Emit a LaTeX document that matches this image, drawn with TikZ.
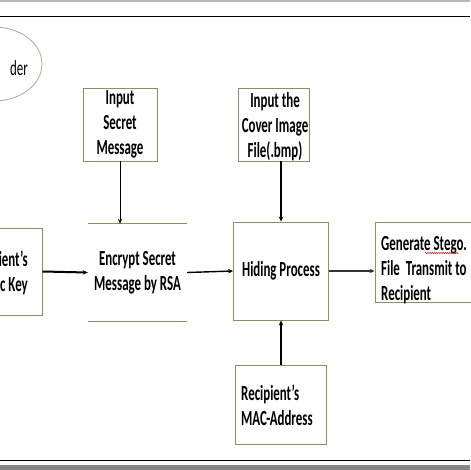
\documentclass[tikz,border=0pt]{standalone}
\usepackage{fontspec}
\newfontfamily\diagfont{Carlito}[FakeStretch=0.6]
\usetikzlibrary{arrows.meta,shapes.geometric,decorations.pathmorphing}
\definecolor{boxgreen}{RGB}{128,152,92}
\definecolor{ellgreen}{RGB}{160,178,140}
\definecolor{topgray}{RGB}{185,185,185}
\definecolor{botgray}{RGB}{135,135,135}
\tikzset{
  txt/.style={font=\diagfont\bfseries\fontsize{21.5}{25}\selectfont, inner sep=0pt, text=black},
  gbox/.style={draw=boxgreen, line width=0.9pt, inner sep=0pt},
  arr/.style={-{Stealth[length=5pt,width=4pt]}, line width=1pt},
  midarr/.style={-{Stealth[length=5pt,width=4.5pt]}, line width=1.4pt},
  thickarr/.style={-{Stealth[length=5pt,width=4.5pt]}, line width=2pt}
}
\begin{document}
\begin{tikzpicture}[x=1pt,y=-1pt]
\useasboundingbox (0,0) rectangle (470,470);
\begin{scope}
\clip (0,0) rectangle (470,470);
% frame bands
\fill[topgray] (0,0) rectangle (470,2.5);
\draw[line width=1pt] (0,17) -- (470,17);
\draw[line width=1pt] (0,460) -- (470,460);
\fill[botgray] (0,465) rectangle (470,470);
% sender ellipse
\node[ellipse, draw=ellgreen, line width=0.8pt, minimum width=96, minimum height=74] (sender) at (-6,64) {};
\node[txt, font=\diagfont\fontsize{21.5}{25}\selectfont, anchor=east] (sendertxt) at (28,68) {der};
% left key box
\node[gbox, minimum width=60, minimum height=87] (key) at (12,271.5) {};
\node[txt, anchor=east, align=right] (keytxt) at (28,273) {ient’s\\c Key};
\end{scope}
% input secret message
\node[gbox, minimum width=74, minimum height=73, txt, align=center] (secret) at (120,124.5) {Input\\Secret\\Message};
% cover image
\node[gbox, minimum width=71, minimum height=73] (cover) at (273.5,124.5) {};
\node[txt, align=center] (covertxt) at (275,126.5) {Input the\\Cover Image\\File(.bmp)};
% encrypt (top and bottom lines only)
\node[txt, align=center, minimum width=99, minimum height=97] (encrypt) at (137.5,272.5) {Encrypt Secret\\Message by RSA};
\draw[boxgreen, line width=0.9pt] (encrypt.north west) -- (encrypt.north east);
\draw[boxgreen, line width=0.9pt] (encrypt.south west) -- (encrypt.south east);
% hiding process
\node[gbox, minimum width=95, minimum height=98, txt] (hiding) at (281,271) {Hiding Process};
% stego box
\node[gbox, minimum width=100, minimum height=80] (stego) at (425,262) {};
\node[txt, anchor=west, align=left] (stegotxt) at (381,270) {Generate Stego.\\File~~Transmit to\\Recipient};
\draw[red!80!black, line width=0.4pt, decorate, decoration={snake, amplitude=0.7pt, segment length=2.2pt}] (425,253) -- (459,253);
% MAC address
\node[gbox, minimum width=91, minimum height=79] (mac) at (281,404.5) {};
\node[txt, anchor=west, align=left] (mactxt) at (241,405.5) {Recipient’s\\MAC-Address};
% connectors
\draw[arr] (secret.south) -- (secret.south |- encrypt.north);
\draw[thickarr] (hiding.north |- cover.south) -- (hiding.north);
\draw[thickarr] (key.east) -- (encrypt.west);
\draw[midarr] (encrypt.east) -- (hiding.west);
\draw[thickarr, draw=black!80] (hiding.east) -- (hiding.east -| stego.west);
\draw[thickarr] (mac.north) -- (hiding.south);
\end{tikzpicture}
\end{document}
